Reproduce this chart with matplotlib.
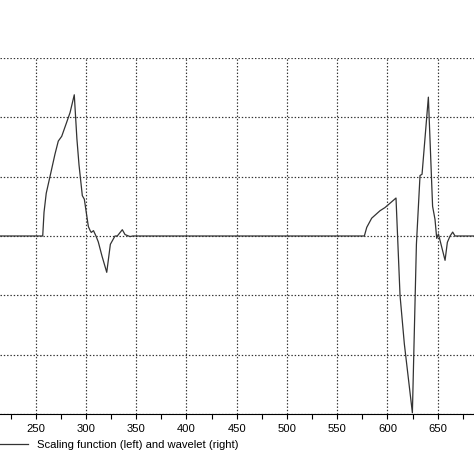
import matplotlib
matplotlib.use("Agg")
import matplotlib.pyplot as plt
from matplotlib.ticker import MultipleLocator

plt.rcParams['font.family'] = ['Liberation Sans', 'DejaVu Sans']

# scaling function (left) and wavelet (right)
x_phi = [200, 257.0, 258.3, 260.5, 265.0, 269.2, 272.5, 275.9, 280.9, 284.2, 288.4,
         291.0, 293.1, 296.4, 298.4, 302.4, 304.2, 305.3, 307.5, 310.0, 312.3,
         316.0, 320.7, 324.3, 328.9, 331.2, 336.2, 338.9, 343.9, 346.5]
y_phi = [0, 0, 0.20, 0.36, 0.53, 0.69, 0.80, 0.84, 0.96, 1.04, 1.19,
         0.82, 0.60, 0.34, 0.31, 0.08, 0.045, 0.03, 0.045, 0.0, -0.05,
         -0.17, -0.306, -0.07, 0.0, 0.0, 0.053, 0.012, -0.005, 0]

x_psi = [346.5, 577.0, 579.4, 584.3, 592.6, 597.6, 608.5, 612.5, 616.8, 624.8,
         628.8, 632.4, 634.4, 640.7, 644.9, 647.3, 649.0, 650.7, 657.3, 659.6,
         662.3, 664.9, 667.2, 700]
y_psi = [0, 0, 0.073, 0.15, 0.213, 0.24, 0.32, -0.50, -0.91, -1.49,
         -0.07, 0.51, 0.52, 1.17, 0.25, 0.14, -0.02, 0.017, -0.205, -0.053,
         0.0, 0.033, 0.0, 0]

fig = plt.figure(figsize=(4.74, 4.74), dpi=100)
ax = fig.add_axes([0, 1 - 414 / 474, 1, 356 / 474])

ax.plot(x_phi + x_psi, y_phi + y_psi, color='#333333', lw=0.9,
        label='Scaling function (left) and wavelet (right)')

ax.set_xlim(214.5, 686.1)
ax.set_ylim(-1.5, 1.5)
ax.xaxis.set_major_locator(MultipleLocator(50))
ax.xaxis.set_minor_locator(MultipleLocator(25))
ax.yaxis.set_major_locator(MultipleLocator(0.5))
ax.grid(True, which='major', color='#333333', linestyle=(0, (1.2, 1.6)), lw=0.85)

for s in ['top', 'left', 'right']:
    ax.spines[s].set_visible(False)
ax.spines['bottom'].set_linewidth(0.8)
ax.tick_params(axis='y', left=False, labelleft=False)
ax.tick_params(axis='x', which='both', direction='out', length=3.8, width=0.8,
               pad=3.3, labelsize=8.1)

fig.legend(loc='center left', bbox_to_anchor=(-0.012, 1 - 445 / 474),
           frameon=False, fontsize=8.1, handlelength=3.0, handletextpad=0.8,
           borderpad=0, borderaxespad=0)

fig.savefig('out.png', dpi=100)
